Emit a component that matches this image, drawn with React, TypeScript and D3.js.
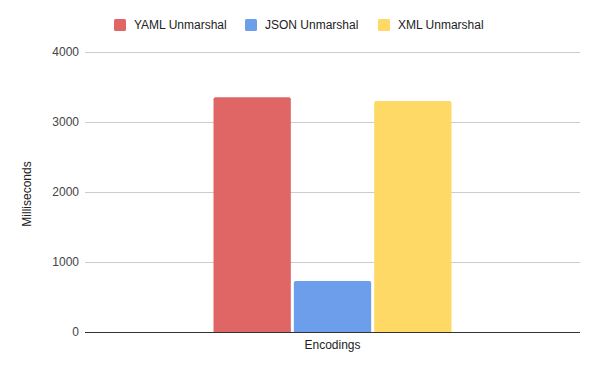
import React from "react";
import * as d3 from "d3";

const categories = ["Encodings"];
const seriesNames = ["YAML Unmarshal", "JSON Unmarshal", "XML Unmarshal"];
const seriesValues = [3355, 730, 3300];
const seriesColors = ["#e06666", "#6d9eeb", "#ffd966"];
const yTicks = [0, 1000, 2000, 3000, 4000];

const W = 600;
const H = 371;
const margin = { left: 85, right: 20, top: 52, bottom: 39 };

export default function App() {
  const x = d3
    .scaleBand<string>()
    .domain(categories)
    .range([margin.left, W - margin.right])
    .paddingInner(0)
    .paddingOuter(0.54);
  const inner = d3
    .scaleBand<string>()
    .domain(seriesNames)
    .range([0, x.bandwidth()])
    .paddingInner(0.0375)
    .paddingOuter(0);
  const y = d3.scaleLinear().domain([0, 4000]).range([H - margin.bottom, margin.top]);
  const font = "'Liberation Sans', Arial, sans-serif";
  const r = 2;

  const legendItems = [
    { x: 114, textX: 134 },
    { x: 245, textX: 265 },
    { x: 378, textX: 398 },
  ];

  return (
    <svg
      width={W}
      height={H}
      style={{ position: "absolute", left: 0, top: 0, background: "#fff", fontFamily: font }}
    >
      {yTicks.map((t) => (
        <g key={t}>
          <line
            x1={margin.left}
            x2={W - margin.right}
            y1={y(t)}
            y2={y(t)}
            stroke={t === 0 ? "#333" : "#ccc"}
            strokeWidth={1}
            shapeRendering="crispEdges"
          />
          <text x={79} y={y(t)} dy="0.35em" textAnchor="end" fontSize={12} fill="#444">
            {t}
          </text>
        </g>
      ))}
      {categories.map((c) =>
        seriesNames.map((s, i) => {
          const bx = (x(c) ?? 0) + (inner(s) ?? 0);
          const bw = inner.bandwidth();
          const top = y(seriesValues[i]);
          const base = y(0);
          const path = `M${bx},${base} L${bx},${top + r} Q${bx},${top} ${bx + r},${top} L${bx + bw - r},${top} Q${bx + bw},${top} ${bx + bw},${top + r} L${bx + bw},${base} Z`;
          return <path key={s} d={path} fill={seriesColors[i]} />;
        })
      )}
      <line
        x1={margin.left}
        x2={W - margin.right}
        y1={y(0)}
        y2={y(0)}
        stroke="#333"
        strokeWidth={1}
        shapeRendering="crispEdges"
      />
      {categories.map((c) => (
        <text
          key={c}
          x={(x(c) ?? 0) + x.bandwidth() / 2}
          y={349}
          textAnchor="middle"
          fontSize={12}
          fill="#222"
        >
          {c}
        </text>
      ))}
      <text
        transform={`translate(31,194) rotate(-90)`}
        textAnchor="middle"
        fontSize={12}
        fill="#222"
      >
        Milliseconds
      </text>
      {seriesNames.map((s, i) => (
        <g key={s}>
          <rect x={legendItems[i].x} y={19} width={12} height={12} rx={1.5} fill={seriesColors[i]} />
          <text x={legendItems[i].textX} y={25} dy="0.35em" fontSize={12} fill="#222">
            {s}
          </text>
        </g>
      ))}
    </svg>
  );
}
